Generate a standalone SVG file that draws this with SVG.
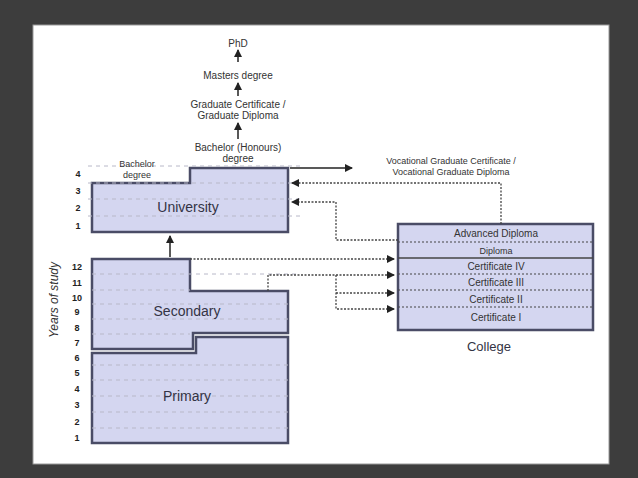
<svg xmlns="http://www.w3.org/2000/svg" width="638" height="478" viewBox="0 0 638 478">
<defs>
<marker id="ah" markerWidth="8" markerHeight="8" refX="7" refY="4" orient="auto" markerUnits="userSpaceOnUse"><path d="M0,0 L8,4 L0,8 Z" fill="#222"/></marker>
<style>
text{font-family:"Liberation Sans",Arial,sans-serif;fill:#333;}
.s{font-size:10px;text-anchor:middle;}
.n{font-size:9px;font-weight:bold;text-anchor:middle;fill:#222;}
.big{font-size:14px;text-anchor:middle;fill:#334;}
.blk{fill:#d4d6f0;stroke:#4a4c66;stroke-width:2.5;}
.grid{stroke:#b8b8c8;stroke-width:1;stroke-dasharray:4 4;fill:none;}
.sol{stroke:#222;stroke-width:1.5;fill:none;}
.dot{stroke:#444;stroke-width:1.3;stroke-dasharray:2 1.5;fill:none;}
</style>
</defs>
<rect width="638" height="478" fill="#3d3d3d"/>
<rect x="33" y="25" width="576" height="439" fill="#fff" stroke="#999"/>
<g id="yaxis">
<text transform="translate(58,300) rotate(-90)" style="font-size:12px;font-style:italic;text-anchor:middle">Years of study</text>
<text class="n" x="78" y="177">4</text><text class="n" x="78" y="194">3</text><text class="n" x="78" y="211">2</text><text class="n" x="78" y="229">1</text>
<text class="n" x="77" y="270">12</text><text class="n" x="77" y="286">11</text><text class="n" x="77" y="301">10</text><text class="n" x="77" y="315">9</text><text class="n" x="77" y="331">8</text><text class="n" x="77" y="346">7</text><text class="n" x="77" y="361">6</text><text class="n" x="77" y="376">5</text><text class="n" x="77" y="392">4</text><text class="n" x="77" y="408">3</text><text class="n" x="77" y="425">2</text><text class="n" x="77" y="441">1</text>
</g>
<g id="university">
<path class="blk" d="M92,183 H190 V168 H288 V232 H92 Z"/>
<path class="grid" d="M88,166 H300 M88,183 H300 M88,199 H300 M88,216 H300"/>
<text class="big" x="188" y="212">University</text>
</g>
<g id="secondary">
<path class="blk" d="M92,259 H190 V291 H288 V333 H193 V349 H92 Z"/>
<path class="grid" d="M92,274 H300 M92,290 H190 M92,304 H288 M92,319 H288 M92,334 H190"/>
<text class="big" x="187" y="316">Secondary</text>
</g>
<g id="primary">
<path class="blk" d="M92,353 H196 V337 H288 V443 H92 Z"/>
<path class="grid" d="M92,365 H288 M92,380 H288 M92,396 H288 M92,412 H288 M92,428 H288"/>
<text class="big" x="187" y="401">Primary</text>
</g>
<g id="college">
<rect class="blk" x="398" y="224" width="195" height="106"/>
<path d="M398,242 H593 M398,274 H593 M398,290 H593 M398,307 H593" stroke="#444" stroke-width="1.2" stroke-dasharray="2 2"/>
<path d="M398,258 H593" stroke="#444" stroke-width="1.5"/>
<text class="s" x="496" y="237">Advanced Diploma</text>
<text class="s" x="496" y="254" style="font-size:9px">Diploma</text>
<text class="s" x="496" y="270">Certificate IV</text>
<text class="s" x="496" y="286">Certificate III</text>
<text class="s" x="496" y="303">Certificate II</text>
<text class="s" x="496" y="321">Certificate I</text>
<text class="big" x="489" y="351" style="font-size:13px">College</text>
</g>
<g id="higher">
<text class="s" x="238" y="47">PhD</text>
<text class="s" x="238" y="79">Masters degree</text>
<text class="s" x="238" y="108">Graduate Certificate /</text>
<text class="s" x="238" y="119">Graduate Diploma</text>
<text class="s" x="238" y="151">Bachelor (Honours)</text>
<text class="s" x="238" y="162">degree</text>
<text class="s" x="137" y="167" style="font-size:9px">Bachelor</text>
<text class="s" x="137" y="178" style="font-size:9px">degree</text>
<text class="s" x="451" y="164" style="font-size:9px">Vocational Graduate Certificate /</text>
<text class="s" x="451" y="175" style="font-size:9px">Vocational Graduate Diploma</text>
</g>
<g id="connectors">
<path class="sol" d="M238,62 V50" marker-end="url(#ah)"/>
<path class="sol" d="M238,96 V83" marker-end="url(#ah)"/>
<path class="sol" d="M238,139 V123" marker-end="url(#ah)"/>
<path class="sol" d="M290,168 H352" marker-end="url(#ah)"/>
<path class="sol" d="M170,257 V236" marker-end="url(#ah)"/>
<path class="dot" d="M501,224 V183 H292" marker-end="url(#ah)"/>
<path class="dot" d="M398,240 H336 V202 H292" marker-end="url(#ah)"/>
<path class="dot" d="M190,259 H394" marker-end="url(#ah)"/>
<path class="dot" d="M268,291 V275 H394" marker-end="url(#ah)"/>
<path class="dot" d="M336,275 V309 H394" marker-end="url(#ah)"/>
<path class="dot" d="M336,293 H394" marker-end="url(#ah)"/>
</g>
</svg>
